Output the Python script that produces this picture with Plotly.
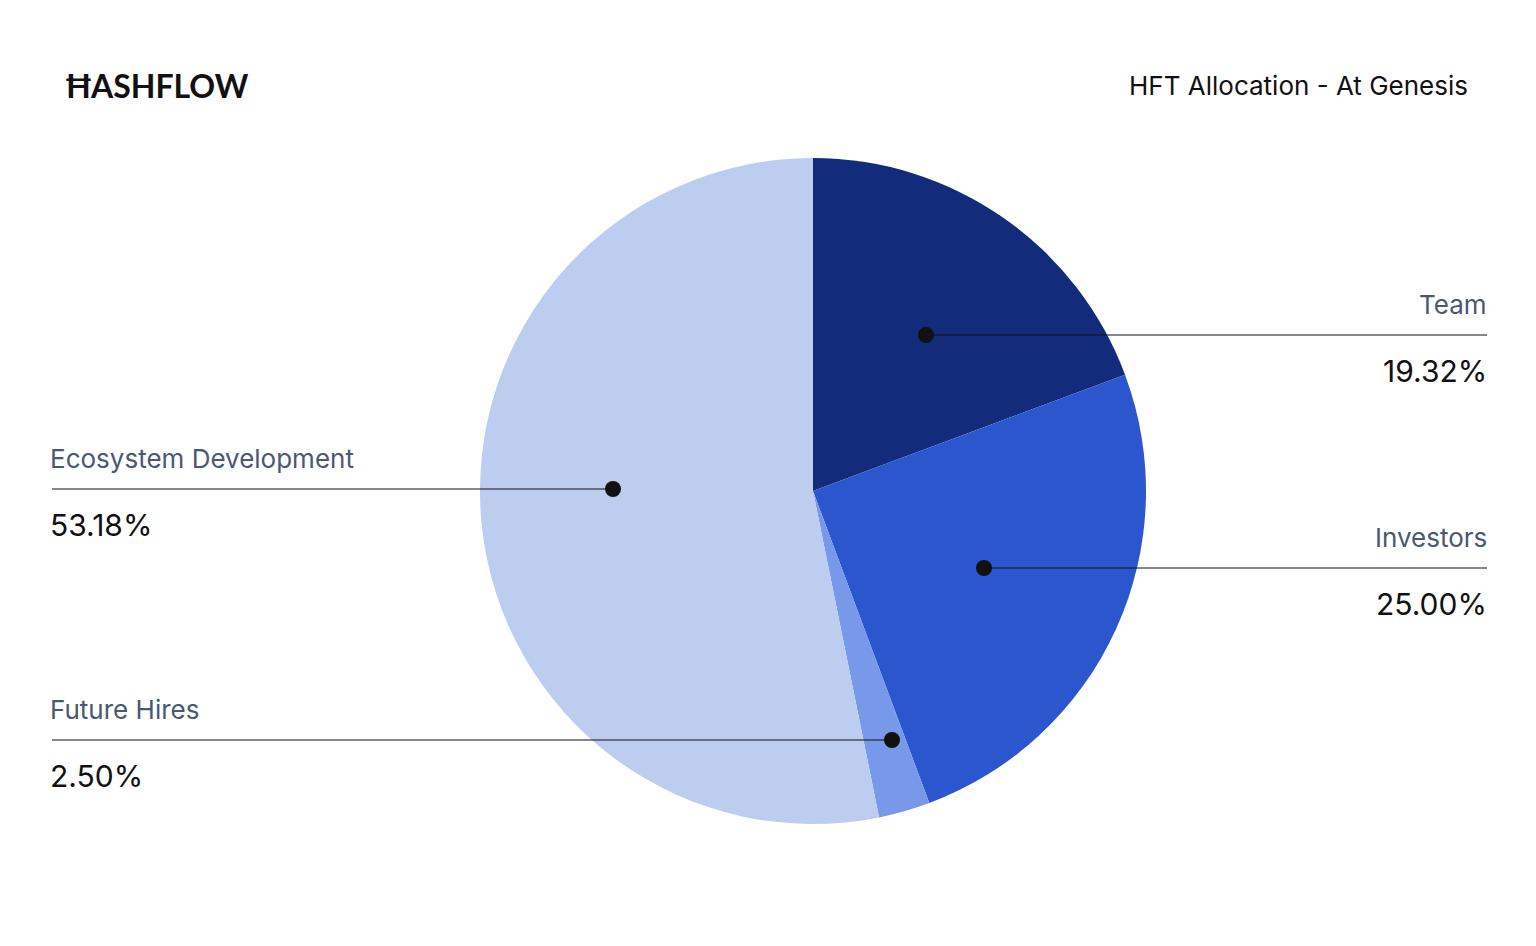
import plotly.graph_objects as go

labels = ["Team", "Investors", "Future Hires", "Ecosystem Development"]
values = [19.32, 25.00, 2.50, 53.18]
colors = ["#122B7A", "#2C56CE", "#7898EA", "#BDCDF0"]

W, H = 1536, 946
OFF = 8  # page body margin compensation
def px(x): return (x - OFF) / W
def py(y): return 1 - (y - OFF) / H

fig = go.Figure(go.Pie(
    labels=labels, values=values, sort=False, direction="clockwise", rotation=0,
    marker=dict(colors=colors, line=dict(width=0)), textinfo="none", hoverinfo="label+percent",
    domain=dict(x=[px(480), px(1146)], y=[py(824), py(158)]), showlegend=False))

callouts = [
    (labels[0], values[0], 926, 335, 926, 1487, "right"),
    (labels[1], values[1], 984, 568, 984, 1487, "right"),
    (labels[3], values[3], 613, 489, 52, 613, "left"),
    (labels[2], values[2], 892, 740, 52, 892, "left"),
]
shapes, anns = [], []
for name, val, dx, dy, x0, x1, side in callouts:
    shapes.append(dict(type="line", xref="paper", yref="paper", x0=px(x0), x1=px(x1), y0=py(dy), y1=py(dy),
                       line=dict(color="#111111", width=1.2)))
    shapes.append(dict(type="circle", xref="paper", yref="paper", x0=px(dx-8), x1=px(dx+8), y0=py(dy-8), y1=py(dy+8),
                       fillcolor="#111111", line=dict(width=0)))
    xa = px(1489) if side == "right" else px(48)
    anc = "right" if side == "right" else "left"
    anns.append(dict(xref="paper", yref="paper", x=xa, y=py(dy-31), text=name, showarrow=False,
                     xanchor=anc, yanchor="middle", font=dict(family="Inter", size=26, color="#4A5872")))
    anns.append(dict(xref="paper", yref="paper", x=xa, y=py(dy+36), text=f"{val:.2f}%", showarrow=False,
                     xanchor=anc, yanchor="middle", font=dict(family="Inter", size=30, color="#111111")))

anns.append(dict(xref="paper", yref="paper", x=px(64), y=py(85), text="<b>ĦASHFLOW</b>", showarrow=False,
                 xanchor="left", yanchor="middle", font=dict(family="Lato", size=32, color="#111111")))
anns.append(dict(xref="paper", yref="paper", x=px(1470), y=py(85), text="HFT Allocation - At Genesis", showarrow=False,
                 xanchor="right", yanchor="middle", font=dict(family="Inter", size=26, color="#111111")))

fig.update_layout(width=W, height=H, margin=dict(l=0, r=0, t=0, b=0), paper_bgcolor="white",
                  plot_bgcolor="white", shapes=shapes, annotations=anns)
fig.write_html("out.html")
